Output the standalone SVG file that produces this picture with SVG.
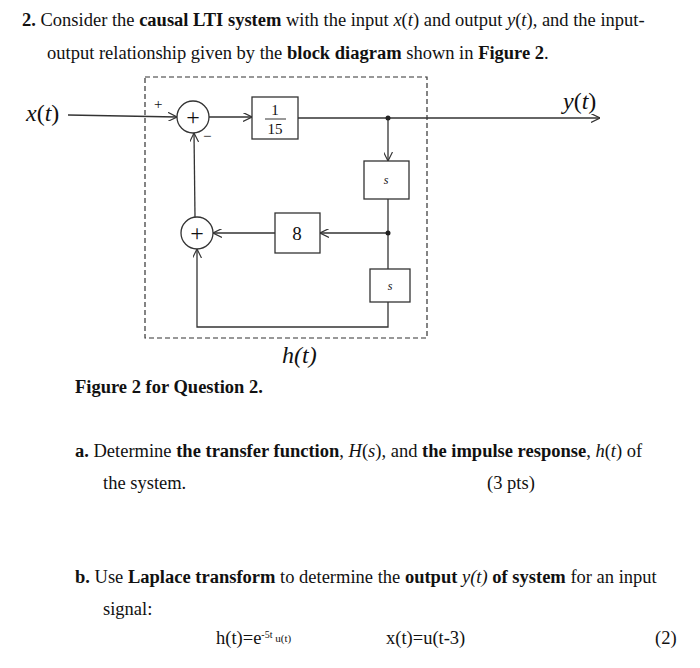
<svg xmlns="http://www.w3.org/2000/svg" width="700" height="668" viewBox="0 0 700 668">
<style>
.t{font-family:"Liberation Serif",serif;font-size:18.5px;fill:#111}
.b{font-weight:bold}
.i{font-style:italic}
.ln{stroke:#333;stroke-width:1.3;fill:none}
.bx{stroke:#333;stroke-width:1.3;fill:#fff}
</style>
<defs>
<marker id="a" viewBox="0 0 10 10" refX="10" refY="5" markerWidth="9" markerHeight="9" orient="auto" markerUnits="userSpaceOnUse"><path d="M0,0 L10,5 L0,10" fill="none" stroke="#333" stroke-width="1.3"/></marker>
</defs>
<rect width="700" height="668" fill="#fff"/>
<text class="t" x="22" y="26"><tspan class="b">2.</tspan>  Consider the <tspan class="b">causal LTI system</tspan> with the input <tspan class="i">x</tspan>(<tspan class="i">t</tspan>) and output <tspan class="i">y</tspan>(<tspan class="i">t</tspan>), and the input-</text>
<text class="t" x="47" y="59">output relationship given by the <tspan class="b">block diagram</tspan> shown in <tspan class="b">Figure 2</tspan>.</text>
<rect x="145" y="77" width="282" height="261" fill="none" stroke="#333" stroke-width="1.2" stroke-dasharray="5,3"/>
<g id="connectors">
<path class="ln" d="M68,115 L177,117" marker-end="url(#a)"/>
<path class="ln" d="M209,117 L252,117" marker-end="url(#a)"/>
<path class="ln" d="M298,118 L600,118" marker-end="url(#a)"/>
<path class="ln" d="M388,118 L388,161" marker-end="url(#a)"/>
<path class="ln" d="M388,199 L388,269"/>
<path class="ln" d="M388,233 L320,233" marker-end="url(#a)"/>
<path class="ln" d="M275,233 L213,233" marker-end="url(#a)"/>
<path class="ln" d="M388,302 L388,327 L197,327 L197,249" marker-end="url(#a)"/>
<path class="ln" d="M195,217 L194,133" marker-end="url(#a)"/>
<circle cx="388" cy="118" r="2.5" fill="#222"/>
<circle cx="388" cy="233" r="2.5" fill="#222"/>
</g>
<g id="sum1"><circle class="bx" cx="193" cy="117" r="16"/><text class="t" x="193" y="125" text-anchor="middle" style="font-size:24px">+</text></g>
<g id="sum2"><circle class="bx" cx="197" cy="233" r="16"/><text class="t" x="197" y="241" text-anchor="middle" style="font-size:24px">+</text></g>
<g id="gain15"><rect class="bx" x="252" y="97" width="46" height="42"/><text class="t" x="275" y="115" text-anchor="middle" style="font-size:15px">1</text><line x1="265" y1="119" x2="286" y2="119" stroke="#333"/><text class="t" x="275" y="134" text-anchor="middle" style="font-size:15px">15</text></g>
<g id="s1"><rect class="bx" x="364" y="161" width="45" height="38"/><text class="t i" x="386" y="184" text-anchor="middle" style="font-size:12px">s</text></g>
<g id="gain8"><rect class="bx" x="275" y="213" width="45" height="40"/><text class="t" x="297" y="240" text-anchor="middle" style="font-size:19px">8</text></g>
<g id="s2"><rect class="bx" x="370" y="269" width="40" height="33"/><text class="t i" x="390" y="290" text-anchor="middle" style="font-size:12px">s</text></g>
<text class="t" x="26" y="121" style="font-size:24px"><tspan class="i">x</tspan>(<tspan class="i">t</tspan>)</text>
<text class="t" x="563" y="109" style="font-size:24px"><tspan class="i">y</tspan>(<tspan class="i">t</tspan>)</text>
<text class="t" x="154" y="109" style="font-size:15px">+</text>
<text class="t" x="203" y="141" style="font-size:15px">−</text>
<text class="t i" x="282" y="363" style="font-size:24px">h(t)</text>
<text class="t b" x="75" y="393">Figure 2 for Question 2.</text>
<text class="t" x="75" y="457"><tspan class="b">a.</tspan>  Determine <tspan class="b">the transfer function</tspan>, <tspan class="i">H</tspan>(<tspan class="i">s</tspan>), and <tspan class="b">the impulse response</tspan>, <tspan class="i">h</tspan>(<tspan class="i">t</tspan>)  of</text>
<text class="t" x="103" y="489">the system.</text>
<text class="t" x="487" y="489">(3 pts)</text>
<text class="t" x="75" y="583"><tspan class="b">b.</tspan>  Use <tspan class="b">Laplace transform</tspan> to determine the <tspan class="b">output</tspan> <tspan class="i">y(t)</tspan> <tspan class="b">of system</tspan> for an input</text>
<text class="t" x="103" y="615">signal:</text>
<text class="t" x="216" y="644">h(t)=e<tspan style="font-size:10px" dy="-6">-5t</tspan><tspan style="font-size:11px" dy="4"> u(t)</tspan></text>
<text class="t" x="386" y="644">x(t)=u(t-3)</text>
<text class="t" x="655" y="644">(2)</text>
</svg>
